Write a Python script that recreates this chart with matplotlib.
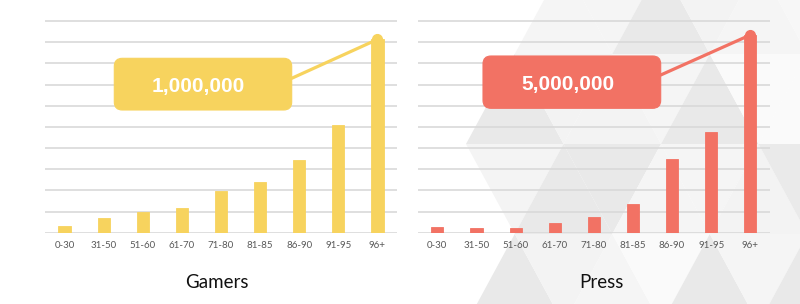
import numpy as np
import matplotlib
matplotlib.use("Agg")
import matplotlib.pyplot as plt
from matplotlib.patches import FancyBboxPatch, Polygon, ConnectionPatch
from matplotlib.transforms import Affine2D

# data (values in gridline units)
categories = ["0-30", "31-50", "51-60", "61-70", "71-80", "81-85", "86-90", "91-95", "96+"]
gamers = [0.31, 0.69, 1.0, 1.17, 1.98, 2.39, 3.45, 5.1, 9.13]
press = [0.27, 0.2, 0.22, 0.46, 0.76, 1.37, 3.48, 4.76, 9.34]
titles = ["Gamers", "Press"]
callouts = ["1,000,000", "5,000,000"]

yellow = "#F7D35E"
red = "#F27264"
grid_c = "#D9D9D9"

W, H = 800, 304
fig = plt.figure(figsize=(W / 100, H / 100), dpi=100)
fig.patch.set_facecolor("white")
# pixel coords, origin top-left
px = Affine2D().scale(1, -1).translate(0, H)

# background triangles (grey shades per triangle, row by row)
shades = [
    ["#FFFFFF", "#FFFFFF", "#FFFFFF", "#F5F5F5", "#F5F5F5", "#E9E9E9", "#F3F3F3", "#F5F5F5", "#F7F7F7", "#F7F7F7"],
    ["#FFFFFF", "#FFFFFF", "#E9E9E9", "#F3F3F3", "#F3F3F3", "#F5F5F5", "#E9E9E9", "#FAFAFA", "#FAFAFA", "#FAFAFA"],
    ["#FFFFFF", "#FFFFFF", "#F4F4F4", "#E9E9E9", "#E9E9E9", "#F5F5F5", "#F5F5F5", "#F3F3F3", "#EAEAEA", "#EAEAEA"],
    ["#FFFFFF", "#FFFFFF", "#E9E9E9", "#F3F3F3", "#F5F5F5", "#FAFAFA", "#E9E9E9", "#F5F5F5", "#E9E9E9", "#E9E9E9"],
]
half = 48.75
for k, row in enumerate(shades):
    y_top = -36 + 90 * k
    y_bot = y_top + 90
    for m, col in enumerate(row):
        pts = []
        for j in range(3):
            x = 368.5 + half * (m + j)
            on_top = ((m + j) % 2 == 0) == (k % 2 == 0)
            pts.append((x, y_top if on_top else y_bot))
        fig.add_artist(Polygon(pts, closed=True, facecolor=col, edgecolor="none",
                               transform=px, zorder=-5))

lefts = [45 / W, 417.8 / W]
step = (232.7 - 21) / 10
for i, (vals, col) in enumerate([(gamers, yellow), (press, red)]):
    ax = fig.add_axes([lefts[i], (H - 232.7) / H, 352 / W, step * 10.2 / H])
    ax.set_facecolor("none")
    x = np.arange(len(categories))
    ax.bar(x, vals, width=0.31, color=col, edgecolor=col, linewidth=0.6, zorder=3)
    ax.set_xlim(-0.5, 8.5)
    ax.set_ylim(0, 10.2)
    ax.set_yticks(range(0, 11))
    ax.yaxis.grid(True, color=grid_c, linewidth=1.2)
    ax.set_axisbelow(True)
    ax.tick_params(axis="y", length=0, labelleft=False)
    ax.set_xticks(x)
    ax.set_xticklabels(categories, family="Lato", fontsize=7, color="#595959")
    ax.tick_params(axis="x", length=0, pad=6)
    for s in ax.spines.values():
        s.set_visible(False)
    # dot on top of last bar
    ax.plot([8], [vals[-1]], "o", ms=7, color=col, clip_on=False, zorder=4)

    if i == 0:
        bx0, by0, bx1, by1 = 114.3, 58.3, 291.7, 110
        lx, ly = 291.7, 78.3
        tx, tb = 198.5, 92.3
        ttx = 216.7
    else:
        bx0, by0, bx1, by1 = 483, 56, 660.7, 108.3
        lx, ly = 660.7, 75
        tx, tb = 567.5, 90
        ttx = 601.7
    con = ConnectionPatch(xyA=(lx, ly), coordsA=px, xyB=(8, vals[-1]), coordsB=ax.transData,
                          color=col, linewidth=2.3, zorder=4)
    fig.add_artist(con)
    box = FancyBboxPatch((bx0, by0), bx1 - bx0, by1 - by0,
                         boxstyle="round,pad=0,rounding_size=8",
                         facecolor=col, edgecolor=col, linewidth=0.8, transform=px, zorder=5)
    fig.add_artist(box)
    fig.text(tx, tb, callouts[i], transform=px, ha="center", va="baseline",
             family="Liberation Sans", fontweight="bold", fontsize=15, color="white", zorder=6)
    fig.text(ttx, 288.3, titles[i], transform=px, ha="center", va="baseline",
             family="Lato", fontsize=13.5, color="#111111")

fig.savefig("out.png", dpi=100, facecolor="white")
